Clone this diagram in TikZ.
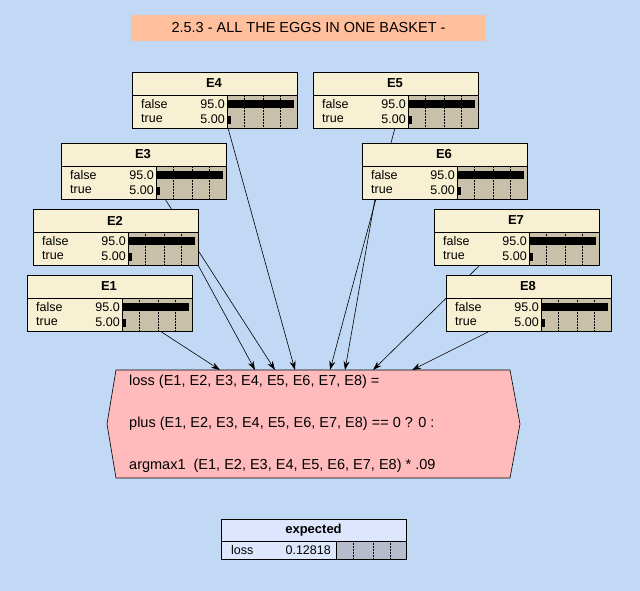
\documentclass[tikz,border=0pt]{standalone}
\usepackage{fontspec}
\usetikzlibrary{arrows.meta}
\setmainfont{Liberation Sans}
\definecolor{bg}{HTML}{C2D9F5}
\definecolor{cream}{HTML}{F8F0D2}
\definecolor{bararea}{HTML}{C8C0A8}
\definecolor{hexfill}{HTML}{FFBBBB}
\definecolor{titlefill}{HTML}{FFBE9C}
\definecolor{expfill}{HTML}{DDE6FC}
\definecolor{expbar}{HTML}{B6BCCC}
\tikzset{
  boxframe/.style={draw=black, line width=0.6pt, fill=cream, minimum width=165pt, minimum height=56pt, inner sep=0pt, anchor=north west},
  lbl/.style={font=\fontsize{12.5}{14}\selectfont, inner sep=0pt},
  conn/.style={-{Stealth[length=9pt,width=6pt]}, line width=0.6pt},
}
\newcommand{\enode}[4]{%
  \node[boxframe] (#1) at (#2,#3) {};
  \fill[bararea] (#2+95,#3+23) rectangle (#2+165,#3+56);
  \draw[line width=0.6pt] (#2,#3) rectangle (#2+165,#3+56);
  \draw[line width=0.6pt] (#2,#3+23) -- (#2+165,#3+23);
  \draw[line width=0.6pt] (#2+95,#3+23) -- (#2+95,#3+56);
  \foreach \dx in {112,131,148} {\draw[densely dotted,line width=0.5pt] (#2+\dx,#3+23) -- (#2+\dx,#3+56);}
  \fill[black] (#2+96,#3+28) rectangle (#2+162,#3+36);
  \fill[black] (#2+96,#3+44) rectangle (#2+99,#3+52);
  \node[lbl,font=\fontsize{13}{15}\selectfont\bfseries] at (#2+82,#3+11.5) {#4};
  \node[lbl,anchor=west] at (#2+9,#3+32) {false};
  \node[lbl,anchor=west] at (#2+9,#3+47) {true};
  \node[lbl,anchor=east] at (#2+93,#3+32) {95.0};
  \node[lbl,anchor=east] at (#2+93,#3+47) {5.00};
}
\begin{document}
\begin{tikzpicture}[x=1pt,y=-1pt]
\fill[bg] (0,0) rectangle (640,591);
\useasboundingbox (0,0) rectangle (640,591);
\node[fill=titlefill, minimum width=355pt, minimum height=26pt, inner sep=0pt, font=\fontsize{14.5}{16}\selectfont] (title) at (308.5,28) {2.5.3 - ALL THE EGGS IN ONE BASKET -};
\coordinate (t1) at (220,370);
\coordinate (t2) at (255,370);
\coordinate (t3) at (275,370);
\coordinate (t4) at (295,370);
\coordinate (t5) at (330,370);
\coordinate (t6) at (345,370);
\coordinate (t7) at (373,370);
\coordinate (t8) at (412,370);
\coordinate (s1) at (160,331);
\coordinate (s2) at (198,265);
\coordinate (s3) at (165,199);
\coordinate (s4) at (228,128);
\coordinate (s5) at (395,128);
\coordinate (s6) at (375,199);
\coordinate (s7) at (480,265);
\coordinate (s8) at (490,331);
\foreach \i in {1,...,8} {\draw[conn] (s\i) -- (t\i);}
\enode{E4}{132}{72}{E4}
\enode{E5}{313}{72}{E5}
\enode{E3}{61}{143}{E3}
\enode{E6}{362}{143}{E6}
\enode{E2}{33}{209}{E2}
\enode{E7}{434}{209}{E7}
\enode{E1}{27}{275}{E1}
\enode{E8}{446}{275}{E8}
% hexagon
\draw[line width=0.6pt, fill=hexfill] (116,370) -- (510,370) -- (520,424) -- (510,478) -- (116,478) -- (107,424) -- cycle;
\node[inner sep=0pt] (loss) at (313,424) {};
\begin{scope}[every node/.style={anchor=west, inner sep=0pt, font=\fontsize{14.5}{16}\selectfont}]
\node (l1) at (129,382) {loss (E1, E2, E3, E4, E5, E6, E7, E8) =};
\node (l2) at (129,424) {plus (E1, E2, E3, E4, E5, E6, E7, E8) == 0 ? 0 :};
\node (l3) at (129,466) {argmax1\ \ (E1, E2, E3, E4, E5, E6, E7, E8) * .09};
\end{scope}
% expected
\node[draw, line width=0.6pt, fill=expfill, minimum width=185pt, minimum height=40pt, inner sep=0pt, anchor=north west] (exp) at (221,519) {};
\fill[expbar] (336,541) rectangle (406,559);
\draw[line width=0.6pt] (221,519) rectangle (406,559);
\draw[line width=0.6pt] (221,541) -- (406,541);
\draw[line width=0.6pt] (336,541) -- (336,559);
\foreach \xx in {353,373,390} {\draw[densely dotted,line width=0.5pt] (\xx,541) -- (\xx,559);}
\node[lbl,font=\fontsize{13}{15}\selectfont\bfseries] at (313.5,530) {expected};
\node[lbl,anchor=west] at (231,550) {loss};
\node[lbl,anchor=east] at (331,550) {0.12818};
\end{tikzpicture}
\end{document}
